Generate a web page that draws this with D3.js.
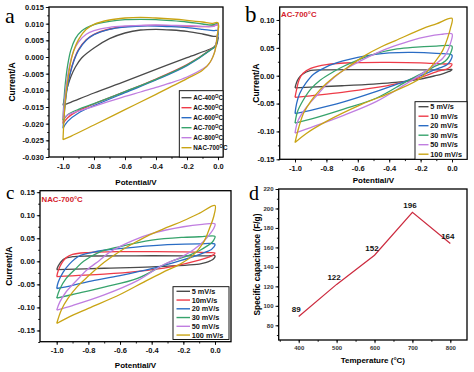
<!DOCTYPE html>
<html>
<head>
<meta charset="utf-8">
<script src="https://cdn.jsdelivr.net/npm/d3@7"></script>
<style>
  body { margin: 0; background: #fff; }
  svg { display: block; }
</style>
</head>
<body>
<div id="fig"></div>
<script>
// ---- data ----
var samplesA = ["AC-400", "AC-500", "AC-600", "AC-700", "AC-800", "NAC-700"];
var ratesB = ["5 mV/s", "10 mV/s", "20 mV/s", "30 mV/s", "50 mV/s", "100 mV/s"];
var ratesC = ["5 mV/s", "10mV/s", "20 mV/s", "30 mV/s", "50 mV/s", "100 mV/s"];
var cvColors = ["#4a4a4a", "#ee3b48", "#2a6cc4", "#37a36c", "#c07ee0", "#c9a414"];

var xTicksCV = [-1.0, -0.8, -0.6, -0.4, -0.2, 0.0];
var xMinorCV = [-1.0, -0.9, -0.8, -0.7, -0.6, -0.5, -0.4, -0.3, -0.2, -0.1, 0.0];
var yTicksA = [0.015, 0.010, 0.005, 0.000, -0.005, -0.010, -0.015, -0.020, -0.025, -0.030];
var yTicksB = [0.10, 0.05, 0.00, -0.05, -0.10, -0.15];
var yTicksC = [0.15, 0.10, 0.05, 0.00, -0.05, -0.10, -0.15];

// panel a: loops (anodic -1 -> 0, then cathodic 0 -> -1), current in A
var loopAC400 = [[-1.0,-0.0145],[-0.985,-0.0115],[-0.97,-0.0088],[-0.95,-0.0060],[-0.92,-0.0030],[-0.88,-0.0003],[-0.8,0.0027],[-0.7,0.0055],[-0.6,0.0072],[-0.5,0.0081],[-0.4,0.0083],[-0.3,0.0081],[-0.2,0.0077],[-0.1,0.0069],[-0.03,0.0062],[0.0,0.0060],
  [-0.004,0.0045],[-0.015,0.0031],[-0.05,0.0024],[-0.2,-0.0002],[-0.4,-0.0037],[-0.6,-0.0073],[-0.8,-0.0108],[-0.95,-0.0136],[-1.0,-0.0145]];
var loopAC500 = [[-1.0,-0.0200],[-0.99,-0.0150],[-0.975,-0.0095],[-0.955,-0.0050],[-0.93,-0.0010],[-0.9,0.0022],[-0.85,0.0052],[-0.8,0.0068],[-0.7,0.0084],[-0.6,0.0091],[-0.5,0.0094],[-0.4,0.0095],[-0.3,0.0094],[-0.2,0.0093],[-0.1,0.0091],[-0.03,0.0093],[0.0,0.0097],
  [-0.004,0.0062],[-0.015,0.0036],[-0.05,0.0022],[-0.2,-0.0023],[-0.4,-0.0066],[-0.6,-0.0104],[-0.8,-0.0141],[-0.9,-0.0161],[-0.97,-0.0182],[-1.0,-0.0200]];
var loopAC600 = [[-1.0,-0.0214],[-0.99,-0.0160],[-0.975,-0.0100],[-0.955,-0.0052],[-0.93,-0.0012],[-0.9,0.0020],[-0.85,0.0050],[-0.8,0.0067],[-0.7,0.0083],[-0.6,0.0090],[-0.5,0.0093],[-0.4,0.0093],[-0.3,0.0091],[-0.2,0.0088],[-0.1,0.0083],[-0.03,0.0079],[0.0,0.0079],
  [-0.004,0.0055],[-0.015,0.0034],[-0.05,0.0020],[-0.2,-0.0026],[-0.4,-0.0069],[-0.6,-0.0107],[-0.8,-0.0146],[-0.9,-0.0168],[-0.97,-0.0193],[-1.0,-0.0214]];
var loopAC700 = [[-1.0,-0.0190],[-0.995,-0.0140],[-0.985,-0.0080],[-0.97,-0.0025],[-0.95,0.0020],[-0.92,0.0055],[-0.88,0.0078],[-0.8,0.0097],[-0.7,0.0107],[-0.6,0.0112],[-0.5,0.0113],[-0.4,0.0112],[-0.3,0.0109],[-0.2,0.0105],[-0.1,0.0099],[-0.04,0.0096],[0.0,0.0100],
  [-0.004,0.0063],[-0.015,0.0035],[-0.05,0.0021],[-0.2,-0.0024],[-0.4,-0.0067],[-0.6,-0.0104],[-0.8,-0.0140],[-0.9,-0.0157],[-0.97,-0.0173],[-1.0,-0.0190]];
var loopAC800 = [[-1.0,-0.0185],[-0.99,-0.0130],[-0.975,-0.0070],[-0.955,-0.0020],[-0.93,0.0020],[-0.9,0.0045],[-0.85,0.0068],[-0.8,0.0079],[-0.7,0.0089],[-0.6,0.0093],[-0.5,0.0095],[-0.4,0.0096],[-0.3,0.0095],[-0.2,0.0094],[-0.1,0.0092],[-0.03,0.0092],[0.0,0.0098],
  [-0.008,0.0055],[-0.025,0.0010],[-0.06,-0.0022],[-0.1,-0.0036],[-0.2,-0.0060],[-0.3,-0.0077],[-0.4,-0.0091],[-0.5,-0.0105],[-0.6,-0.0118],[-0.8,-0.0148],[-0.9,-0.0162],[-0.97,-0.0174],[-1.0,-0.0185]];
var loopNAC700 = [[-1.0,-0.0248],[-0.995,-0.0200],[-0.985,-0.0130],[-0.965,-0.0055],[-0.94,0.0005],[-0.9,0.0052],[-0.85,0.0083],[-0.8,0.0098],[-0.7,0.0111],[-0.6,0.0117],[-0.5,0.0119],[-0.4,0.0117],[-0.3,0.0114],[-0.2,0.0110],[-0.1,0.0105],[-0.04,0.0101],[0.0,0.0103],
  [-0.006,0.0060],[-0.02,0.0017],[-0.05,-0.0015],[-0.1,-0.0040],[-0.2,-0.0065],[-0.4,-0.0112],[-0.6,-0.0158],[-0.8,-0.0204],[-0.95,-0.0238],[-1.0,-0.0248]];

// panel b: AC-700 at different scan rates
var loopB5 = [[-1.0,-0.022],[-0.99,-0.012],[-0.975,-0.004],[-0.955,0.002],[-0.9,0.0095],[-0.8,0.0105],[-0.6,0.0108],[-0.4,0.0108],[-0.2,0.0106],[-0.06,0.0105],[-0.02,0.0108],[0.0,0.0115],
  [-0.01,0.0085],[-0.03,0.0065],[-0.06,0.0035],[-0.1,0.0005],[-0.2,-0.0060],[-0.36,-0.0120],[-0.5,-0.0150],[-0.7,-0.0180],[-0.9,-0.0205],[-1.0,-0.022]];
var loopB10 = [[-1.0,-0.039],[-0.99,-0.025],[-0.975,-0.008],[-0.95,0.004],[-0.9,0.013],[-0.8,0.020],[-0.6,0.0235],[-0.4,0.024],[-0.2,0.0232],[-0.05,0.021],[0.0,0.021],
  [-0.01,0.016],[-0.03,0.0125],[-0.06,0.0100],[-0.1,0.0070],[-0.2,-0.0030],[-0.35,-0.0140],[-0.5,-0.0220],[-0.7,-0.0300],[-0.9,-0.0360],[-1.0,-0.039]];
var loopB20 = [[-1.0,-0.068],[-0.99,-0.050],[-0.97,-0.032],[-0.93,-0.013],[-0.88,0.003],[-0.8,0.016],[-0.7,0.026],[-0.6,0.033],[-0.5,0.038],[-0.4,0.041],[-0.25,0.042],[-0.1,0.040],[0.0,0.037],
  [-0.01,0.027],[-0.03,0.020],[-0.06,0.016],[-0.1,0.012],[-0.2,0.000],[-0.35,-0.015],[-0.5,-0.030],[-0.69,-0.047],[-0.9,-0.062],[-1.0,-0.068]];
var loopB30 = [[-1.0,-0.085],[-0.985,-0.065],[-0.95,-0.045],[-0.9,-0.024],[-0.84,-0.008],[-0.75,0.008],[-0.69,0.017],[-0.6,0.028],[-0.48,0.040],[-0.35,0.048],[-0.25,0.051],[-0.1,0.053],[0.0,0.053],
  [-0.01,0.040],[-0.03,0.030],[-0.06,0.023],[-0.1,0.018],[-0.2,0.003],[-0.3,-0.012],[-0.48,-0.040],[-0.69,-0.060],[-0.9,-0.078],[-1.0,-0.085]];
var loopB50 = [[-1.0,-0.103],[-0.98,-0.080],[-0.925,-0.056],[-0.85,-0.032],[-0.8,-0.016],[-0.7,0.008],[-0.58,0.027],[-0.47,0.042],[-0.37,0.053],[-0.25,0.064],[-0.16,0.070],[-0.07,0.074],[0.0,0.075],
  [-0.01,0.058],[-0.03,0.043],[-0.06,0.031],[-0.1,0.022],[-0.2,0.002],[-0.3,-0.016],[-0.48,-0.046],[-0.69,-0.071],[-0.9,-0.093],[-1.0,-0.103]];
var loopB100 = [[-1.0,-0.120],[-0.975,-0.092],[-0.945,-0.067],[-0.9,-0.046],[-0.84,-0.025],[-0.75,-0.002],[-0.67,0.014],[-0.55,0.037],[-0.45,0.052],[-0.36,0.063],[-0.19,0.084],[-0.1,0.093],[0.0,0.103],
  [-0.01,0.085],[-0.03,0.066],[-0.06,0.045],[-0.1,0.028],[-0.2,-0.004],[-0.37,-0.028],[-0.58,-0.052],[-0.8,-0.082],[-0.93,-0.104],[-1.0,-0.120]];

// panel c: NAC-700 at different scan rates
var loopC5 = [[-1.0,-0.018],[-0.99,-0.010],[-0.975,-0.002],[-0.95,0.006],[-0.9,0.010],[-0.8,0.0115],[-0.5,0.012],[-0.2,0.012],[-0.05,0.012],[0.0,0.012],
  [-0.01,0.005],[-0.03,0.001],[-0.06,-0.003],[-0.1,-0.006],[-0.4,-0.012],[-0.7,-0.015],[-1.0,-0.018]];
var loopC10 = [[-1.0,-0.033],[-0.99,-0.020],[-0.97,-0.005],[-0.94,0.008],[-0.9,0.015],[-0.8,0.019],[-0.6,0.021],[-0.4,0.021],[-0.2,0.0205],[-0.05,0.019],[0.0,0.018],
  [-0.01,0.014],[-0.04,0.009],[-0.094,0.003],[-0.28,-0.012],[-0.49,-0.022],[-0.7,-0.028],[-1.0,-0.033]];
var loopC20 = [[-1.0,-0.059],[-0.99,-0.045],[-0.96,-0.024],[-0.92,-0.006],[-0.86,0.011],[-0.78,0.019],[-0.7,0.024],[-0.5,0.031],[-0.3,0.036],[-0.1,0.038],[0.0,0.037],
  [-0.01,0.030],[-0.025,0.025],[-0.052,0.021],[-0.136,0.010],[-0.25,-0.002],[-0.4,-0.016],[-0.6,-0.031],[-0.8,-0.044],[-0.9,-0.052],[-1.0,-0.059]];
var loopC30 = [[-1.0,-0.080],[-0.98,-0.060],[-0.94,-0.037],[-0.88,-0.016],[-0.83,0.0],[-0.73,0.020],[-0.6,0.032],[-0.4,0.046],[-0.2,0.052],[-0.08,0.0535],[0.0,0.054],
  [-0.01,0.045],[-0.025,0.039],[-0.042,0.035],[-0.094,0.024],[-0.157,0.014],[-0.284,-0.001],[-0.49,-0.037],[-0.7,-0.056],[-0.9,-0.072],[-1.0,-0.080]];
var loopC50 = [[-1.0,-0.106],[-0.98,-0.088],[-0.94,-0.066],[-0.87,-0.040],[-0.81,-0.019],[-0.73,0.002],[-0.66,0.021],[-0.52,0.045],[-0.4,0.060],[-0.2,0.075],[-0.08,0.080],[0.0,0.081],
  [-0.01,0.070],[-0.031,0.060],[-0.073,0.043],[-0.136,0.025],[-0.22,0.008],[-0.33,-0.008],[-0.49,-0.042],[-0.7,-0.073],[-0.9,-0.096],[-1.0,-0.106]];
var loopC100 = [[-1.0,-0.135],[-0.97,-0.105],[-0.93,-0.081],[-0.87,-0.055],[-0.8,-0.032],[-0.7,-0.002],[-0.6,0.022],[-0.5,0.042],[-0.41,0.058],[-0.3,0.074],[-0.2,0.088],[-0.1,0.104],[0.0,0.121],
  [-0.01,0.095],[-0.031,0.075],[-0.073,0.041],[-0.136,0.014],[-0.22,-0.006],[-0.33,-0.024],[-0.45,-0.045],[-0.6,-0.072],[-0.8,-0.102],[-0.93,-0.122],[-1.0,-0.135]];

// panel d
var temps = [400, 500, 600, 700, 800];
var capacitance = [89, 122, 152, 196, 164];
var tempTicks = [400, 500, 600, 700, 800];
var tempMinor = [350, 400, 450, 500, 550, 600, 650, 700, 750, 800];
var capTicks = [80, 100, 120, 140, 160, 180, 200, 220];
var capMinor = [70, 80, 90, 100, 110, 120, 130, 140, 150, 160, 170, 180, 190, 200, 210, 220];

// ---- drawing ----
var FONT = "'Liberation Sans', Arial, sans-serif";
var svg = d3.select("#fig").append("svg").attr("width", 474).attr("height", 372);

function axes(g, x, y, o) {
  var b = o.box;
  g.append("g").attr("transform", "translate(0," + b.y1 + ")")
    .call(d3.axisBottom(x).tickValues(o.xMinor).tickSize(1.8).tickFormat(""));
  g.append("g").attr("transform", "translate(0," + b.y1 + ")")
    .call(d3.axisBottom(x).tickValues(o.xTicks).tickSize(3.2).tickPadding(3).tickFormat(o.xFmt));
  g.append("g").attr("transform", "translate(" + b.x0 + ",0)")
    .call(d3.axisLeft(y).tickValues(o.yMinor).tickSize(1.8).tickFormat(""));
  g.append("g").attr("transform", "translate(" + b.x0 + ",0)")
    .call(d3.axisLeft(y).tickValues(o.yTicks).tickSize(3.2).tickPadding(2).tickFormat(o.yFmt));
  g.selectAll(".domain").remove();
  g.selectAll(".tick line").attr("stroke", "#000").attr("stroke-width", 0.9);
  g.selectAll(".tick text").attr("font-family", FONT).attr("font-size", o.tickSize || 7.5)
    .attr("font-weight", "bold").attr("fill", o.tickColor || "#111");
  g.append("rect").attr("x", b.x0).attr("y", b.y0).attr("width", b.x1 - b.x0).attr("height", b.y1 - b.y0)
    .attr("fill", "none").attr("stroke", "#000").attr("stroke-width", 1.3);
  g.append("text").attr("x", (b.x0 + b.x1) / 2).attr("y", o.xTitleY).attr("text-anchor", "middle")
    .attr("font-family", FONT).attr("font-weight", "bold").attr("font-size", 8).text(o.xTitle);
  g.append("text").attr("transform", "translate(" + o.yTitleX + "," + (b.y0 + b.y1) / 2 + ") rotate(-90)")
    .attr("text-anchor", "middle").attr("font-family", FONT).attr("font-weight", "bold")
    .attr("font-size", o.yTitleSize || 8.5).text(o.yTitle);
  g.append("text").attr("x", o.letter[1]).attr("y", o.letter[2]).attr("font-family", "'Liberation Serif', 'DejaVu Serif', serif")
    .attr("font-size", o.letter[3]).text(o.letter[0]);
}

function cvPanel(o) {
  var g = svg.append("g");
  var b = o.box;
  var x = d3.scaleLinear().domain(o.xDomain).range([b.x0, b.x1]);
  var y = d3.scaleLinear().domain(o.yDomain).range([b.y1, b.y0]);
  axes(g, x, y, o);
  var line = d3.line().x(function (d) { return x(d[0]); }).y(function (d) { return y(d[1]); })
    .curve(d3.curveCatmullRom.alpha(0.5));
  g.append("g").selectAll("path").data(o.loops).enter().append("path")
    .attr("d", line).attr("fill", "none")
    .attr("stroke", function (d, i) { return cvColors[i]; })
    .attr("stroke-width", 1.3).attr("stroke-linejoin", "round");

  // legend
  var L = o.legend;
  var lg = g.append("g");
  lg.append("rect").attr("x", L.x0).attr("y", L.y0).attr("width", L.x1 - L.x0).attr("height", L.y1 - L.y0)
    .attr("fill", "#fff").attr("stroke", "#000").attr("stroke-width", 0.9);
  var row = lg.selectAll("g.row").data(o.labels).enter().append("g")
    .attr("transform", function (d, i) { return "translate(0," + (L.first + i * L.dy) + ")"; });
  row.append("line").attr("x1", L.lx0).attr("x2", L.lx1).attr("y1", 0).attr("y2", 0)
    .attr("stroke", function (d, i) { return cvColors[i]; }).attr("stroke-width", 1.4);
  var t = row.append("text").attr("x", L.tx).attr("y", 0).attr("dy", "0.36em")
    .attr("font-family", FONT).attr("font-weight", "bold").attr("font-size", L.font).attr("fill", "#111");
  if (o.degreeSup) {
    t.append("tspan").text(function (d) { return d; });
    t.append("tspan").attr("dy", -2.4).attr("font-size", L.font * 0.7).text("O");
    t.append("tspan").attr("dy", 2.4).text("C");
  } else {
    t.text(function (d) { return d; });
  }
  if (o.tag) {
    g.append("text").attr("x", o.tag[1]).attr("y", o.tag[2]).attr("font-family", FONT)
      .attr("font-weight", "bold").attr("font-size", 7.8).attr("fill", "#d4202a").text(o.tag[0]);
  }
}

var fmt1 = function (d) { return d.toFixed(1); };

cvPanel({
  box: { x0: 49, x1: 223, y0: 7, y1: 157 },
  xDomain: [-1.0903, 0.0323], yDomain: [-0.030, 0.015],
  xTicks: xTicksCV, xMinor: xMinorCV, xFmt: fmt1,
  yTicks: yTicksA, yMinor: d3.range(-0.030, 0.0151, 0.0025), yFmt: function (d) { return d.toFixed(3); },
  xTitle: "Potential/V", xTitleY: 185, yTitle: "Current/A", yTitleX: 15,
  letter: ["a", 5, 23, 22],
  loops: [loopAC400, loopAC500, loopAC600, loopAC700, loopAC800, loopNAC700],
  labels: samplesA, degreeSup: true,
  legend: { x0: 179.3, x1: 223, y0: 90.7, y1: 157, first: 97.7, dy: 10, lx0: 181.5, lx1: 191.5, tx: 193.3, font: 6.3 }
});

cvPanel({
  box: { x0: 279.7, x1: 467, y0: 7, y1: 159.3 },
  xDomain: [-1.0975, 0.0955], yDomain: [-0.15, 0.1233],
  xTicks: xTicksCV, xMinor: xMinorCV, xFmt: fmt1,
  yTicks: yTicksB, yMinor: d3.range(-0.15, 0.121, 0.025), yFmt: function (d) { return d.toFixed(2); },
  xTitle: "Potential/V", xTitleY: 183, yTitle: "Current/A", yTitleX: 259,
  letter: ["b", 245, 22, 23],
  loops: [loopB5, loopB10, loopB20, loopB30, loopB50, loopB100],
  labels: ratesB, tag: ["AC-700°C", 281, 17],
  legend: { x0: 415, x1: 467, y0: 101.7, y1: 159.3, first: 106.7, dy: 9.5, lx0: 418.5, lx1: 428.5, tx: 430.3, font: 7.3 }
});

cvPanel({
  box: { x0: 40, x1: 231, y0: 190.7, y1: 341.7 },
  xDomain: [-1.1055, 0.101], yDomain: [-0.1744, 0.1532],
  xTicks: xTicksCV, xMinor: xMinorCV, xFmt: fmt1,
  yTicks: yTicksC, yMinor: d3.range(-0.175, 0.151, 0.025), yFmt: function (d) { return d.toFixed(2); },
  xTitle: "Potential/V", xTitleY: 368, yTitle: "Current/A", yTitleX: 12,
  letter: ["c", 6, 199, 19],
  loops: [loopC5, loopC10, loopC20, loopC30, loopC50, loopC100],
  labels: ratesC, tag: ["NAC-700°C", 41.5, 202],
  legend: { x0: 173, x1: 229, y0: 286.7, y1: 339.5, first: 291.3, dy: 8.75, lx0: 176.5, lx1: 190, tx: 191.7, font: 7.3 }
});

// panel d
(function () {
  var g = svg.append("g");
  var box = { x0: 278.7, x1: 467, y0: 189, y1: 340 };
  var x = d3.scaleLinear().domain([347.2, 844]).range([box.x0, box.x1]);
  var y = d3.scaleLinear().domain([64.9, 220]).range([box.y1, box.y0]);
  axes(g, x, y, {
    box: box, xTicks: tempTicks, xMinor: tempMinor, xFmt: function (d) { return d; },
    yTicks: capTicks, yMinor: capMinor, yFmt: function (d) { return d; }, tickSize: 6, tickColor: "#333",
    xTitle: "Temperature (°C)", xTitleY: 363, yTitle: "Specific capacitance (F/g)", yTitleX: 260, yTitleSize: 8.3,
    letter: ["d", 249, 200, 20]
  });
  var pts = temps.map(function (t, i) { return [t, capacitance[i]]; });
  g.append("path").datum(pts)
    .attr("d", d3.line().x(function (d) { return x(d[0]); }).y(function (d) { return y(d[1]); }))
    .attr("fill", "none").attr("stroke", "#cc2a3e").attr("stroke-width", 1.2);
  g.selectAll("text.val").data(pts).enter().append("text").attr("class", "val")
    .attr("x", function (d) { return x(d[0]) - 2.5; })
    .attr("y", function (d) { return y(d[1]) - 4.5; })
    .attr("text-anchor", "middle").attr("font-family", FONT).attr("font-weight", "bold")
    .attr("font-size", 8).attr("fill", "#111").text(function (d) { return d[1]; });
})();
</script>
</body>
</html>
